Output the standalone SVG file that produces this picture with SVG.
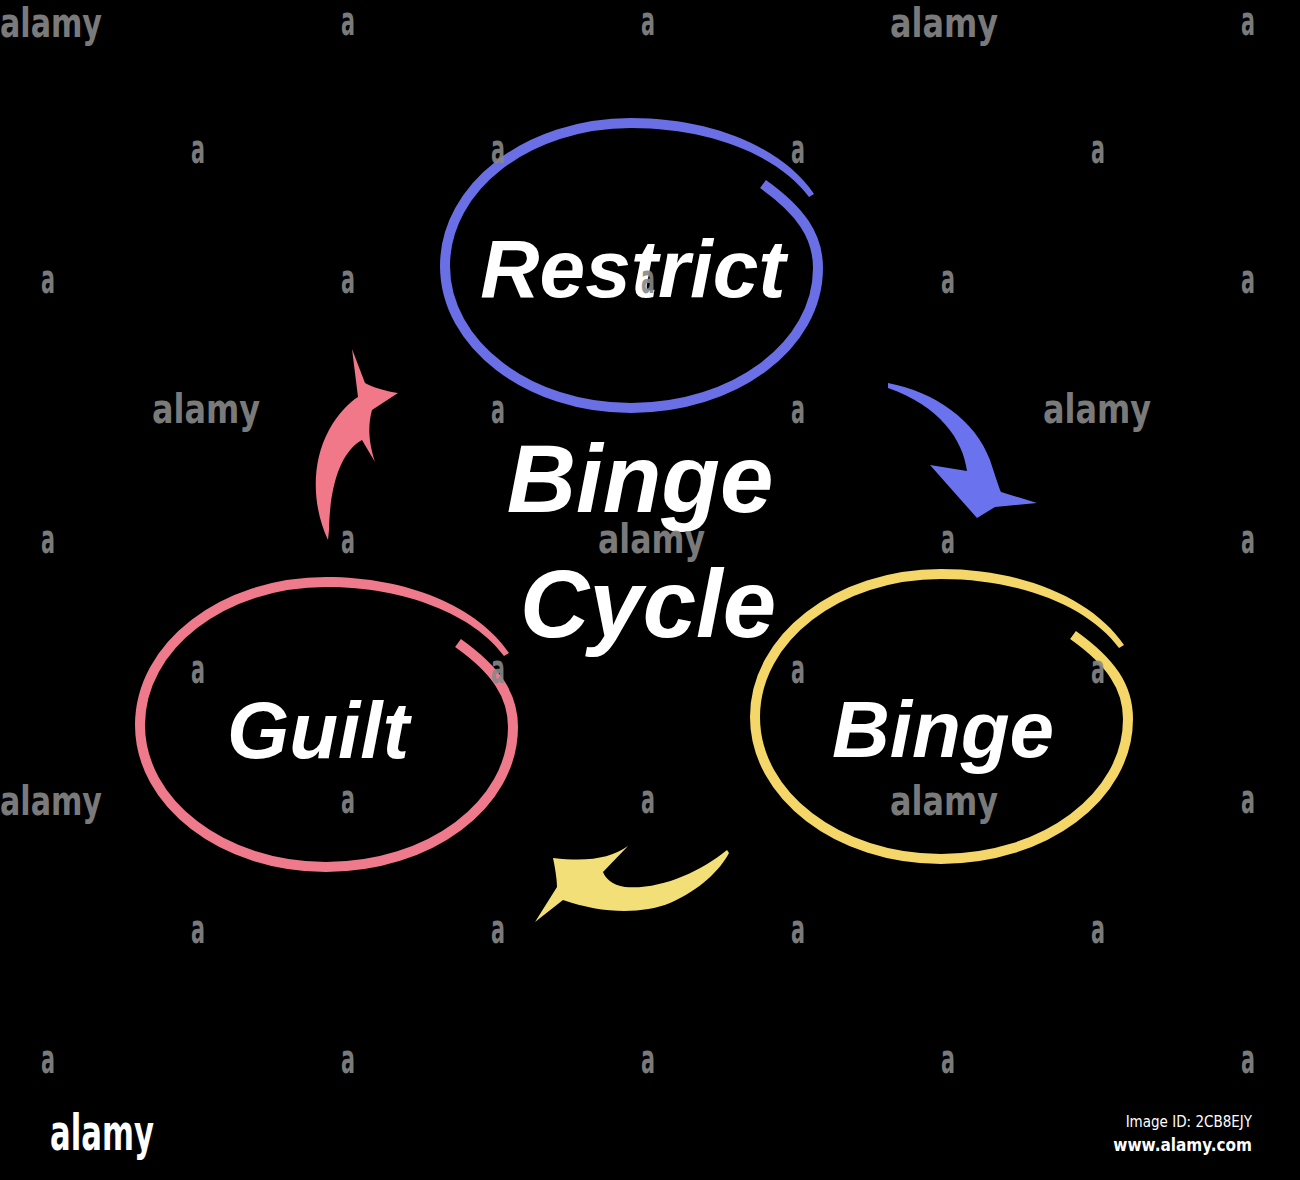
<svg xmlns="http://www.w3.org/2000/svg" xmlns:xlink="http://www.w3.org/1999/xlink" width="1300" height="1180" viewBox="0 0 1300 1180">
<style>
.lbl{font-family:"Liberation Sans",Arial,sans-serif;font-weight:bold;font-style:italic;fill:#ffffff;text-anchor:middle}
.wm{font-family:"DejaVu Sans Condensed","Liberation Sans Narrow",sans-serif;font-weight:bold;font-size:40px;fill:#888888;opacity:0.9}
.foot{font-family:"DejaVu Sans Condensed","Liberation Sans Narrow",sans-serif;fill:#ffffff}
</style>
<defs>
<g id="loop">
<path d="M 132 -82 C 170 -55 187 -30 187 2 C 187 80 103 142 0 142 C -103 142 -186 78 -186 0 C -186 -79 -103 -143 0 -143" fill="none" stroke="currentColor" stroke-width="10"/>
<path d="M 0 -148 C 82 -148 152 -118 183 -72 L 178 -69 C 148 -110 80 -138 0 -138 Z" fill="currentColor"/>
</g>
</defs>
<rect x="0" y="0" width="1300" height="1180" fill="#000000"/>

<g id="node-restrict">
<use xlink:href="#loop" href="#loop" transform="translate(631,266)" color="#6a6fe6"/>
<text class="lbl" x="633" y="297" font-size="82">Restrict</text>
</g>
<g id="node-binge">
<use xlink:href="#loop" href="#loop" transform="translate(941,717)" color="#f4d768"/>
<text class="lbl" x="943" y="757" font-size="80">Binge</text>
</g>
<g id="node-guilt">
<use xlink:href="#loop" href="#loop" transform="translate(326,725)" color="#ef7a8c"/>
<text class="lbl" x="318" y="758" font-size="80">Guilt</text>
</g>
<g id="title">
<text class="lbl" x="640" y="512" font-size="96">Binge</text>
<text class="lbl" x="648" y="637" font-size="96">Cycle</text>
</g>

<g id="connectors">
<path fill="#6b72ee" d="M 888 383 C 935 392 975 420 990 460 C 996 478 999 488 1001 492 L 1037 503 L 995 507 L 977 518 L 930 465 L 967 471 C 963 440 940 406 888 388 Z"/>
<path fill="#f3df78" d="M 727 850 C 700 872 660 890 625 887 C 612 885 605 878 603 872 L 628 846 C 610 858 590 862 553 858 C 556 872 557 882 557 887 L 535 922 L 563 900 C 600 913 640 915 670 903 C 700 890 720 870 729 853 Z"/>
<path fill="#f07889" d="M 328 540 C 313 508 310 465 329 430 C 339 412 350 402 358 397 L 352 349 L 365 383 C 372 387 385 391 398 393 L 372 410 C 368 425 368 440 375 462 L 362 440 C 344 450 330 478 329 530 Z"/>
</g>

<g id="watermarks">
<text class="wm" x="0" y="37" textLength="102" lengthAdjust="spacingAndGlyphs">alamy</text>
<text class="wm" x="890" y="37" textLength="108" lengthAdjust="spacingAndGlyphs">alamy</text>
<text class="wm" x="152" y="423" textLength="108" lengthAdjust="spacingAndGlyphs">alamy</text>
<text class="wm" x="1043" y="423" textLength="108" lengthAdjust="spacingAndGlyphs">alamy</text>
<text class="wm" x="598" y="553" textLength="107" lengthAdjust="spacingAndGlyphs">alamy</text>
<text class="wm" x="0" y="815" textLength="102" lengthAdjust="spacingAndGlyphs">alamy</text>
<text class="wm" x="890" y="815" textLength="108" lengthAdjust="spacingAndGlyphs">alamy</text>

<text class="wm" x="341" y="35" textLength="14" lengthAdjust="spacingAndGlyphs">a</text>
<text class="wm" x="641" y="35" textLength="14" lengthAdjust="spacingAndGlyphs">a</text>
<text class="wm" x="1241" y="35" textLength="14" lengthAdjust="spacingAndGlyphs">a</text>

<text class="wm" x="191" y="163" textLength="14" lengthAdjust="spacingAndGlyphs">a</text>
<text class="wm" x="491" y="163" textLength="14" lengthAdjust="spacingAndGlyphs">a</text>
<text class="wm" x="791" y="163" textLength="14" lengthAdjust="spacingAndGlyphs">a</text>
<text class="wm" x="1091" y="163" textLength="14" lengthAdjust="spacingAndGlyphs">a</text>

<text class="wm" x="41" y="293" textLength="14" lengthAdjust="spacingAndGlyphs">a</text>
<text class="wm" x="341" y="293" textLength="14" lengthAdjust="spacingAndGlyphs">a</text>
<text class="wm" x="641" y="293" textLength="14" lengthAdjust="spacingAndGlyphs">a</text>
<text class="wm" x="941" y="293" textLength="14" lengthAdjust="spacingAndGlyphs">a</text>
<text class="wm" x="1241" y="293" textLength="14" lengthAdjust="spacingAndGlyphs">a</text>

<text class="wm" x="491" y="423" textLength="14" lengthAdjust="spacingAndGlyphs">a</text>
<text class="wm" x="791" y="423" textLength="14" lengthAdjust="spacingAndGlyphs">a</text>

<text class="wm" x="41" y="553" textLength="14" lengthAdjust="spacingAndGlyphs">a</text>
<text class="wm" x="341" y="553" textLength="14" lengthAdjust="spacingAndGlyphs">a</text>
<text class="wm" x="941" y="553" textLength="14" lengthAdjust="spacingAndGlyphs">a</text>
<text class="wm" x="1241" y="553" textLength="14" lengthAdjust="spacingAndGlyphs">a</text>

<text class="wm" x="191" y="683" textLength="14" lengthAdjust="spacingAndGlyphs">a</text>
<text class="wm" x="491" y="683" textLength="14" lengthAdjust="spacingAndGlyphs">a</text>
<text class="wm" x="791" y="683" textLength="14" lengthAdjust="spacingAndGlyphs">a</text>
<text class="wm" x="1091" y="683" textLength="14" lengthAdjust="spacingAndGlyphs">a</text>

<text class="wm" x="341" y="813" textLength="14" lengthAdjust="spacingAndGlyphs">a</text>
<text class="wm" x="641" y="813" textLength="14" lengthAdjust="spacingAndGlyphs">a</text>
<text class="wm" x="1241" y="813" textLength="14" lengthAdjust="spacingAndGlyphs">a</text>

<text class="wm" x="191" y="943" textLength="14" lengthAdjust="spacingAndGlyphs">a</text>
<text class="wm" x="491" y="943" textLength="14" lengthAdjust="spacingAndGlyphs">a</text>
<text class="wm" x="791" y="943" textLength="14" lengthAdjust="spacingAndGlyphs">a</text>
<text class="wm" x="1091" y="943" textLength="14" lengthAdjust="spacingAndGlyphs">a</text>

<text class="wm" x="41" y="1073" textLength="14" lengthAdjust="spacingAndGlyphs">a</text>
<text class="wm" x="341" y="1073" textLength="14" lengthAdjust="spacingAndGlyphs">a</text>
<text class="wm" x="641" y="1073" textLength="14" lengthAdjust="spacingAndGlyphs">a</text>
<text class="wm" x="941" y="1073" textLength="14" lengthAdjust="spacingAndGlyphs">a</text>
<text class="wm" x="1241" y="1073" textLength="14" lengthAdjust="spacingAndGlyphs">a</text>
</g>

<g id="footer">
<text class="foot" x="50" y="1150" font-size="50" font-weight="bold" textLength="104" lengthAdjust="spacingAndGlyphs">alamy</text>
<text class="foot" x="1252" y="1127" font-size="15" text-anchor="end" fill="#dddddd">Image ID: 2CB8EJY</text>
<text class="foot" x="1252" y="1151" font-size="17" font-weight="bold" text-anchor="end">www.alamy.com</text>
</g>
</svg>
